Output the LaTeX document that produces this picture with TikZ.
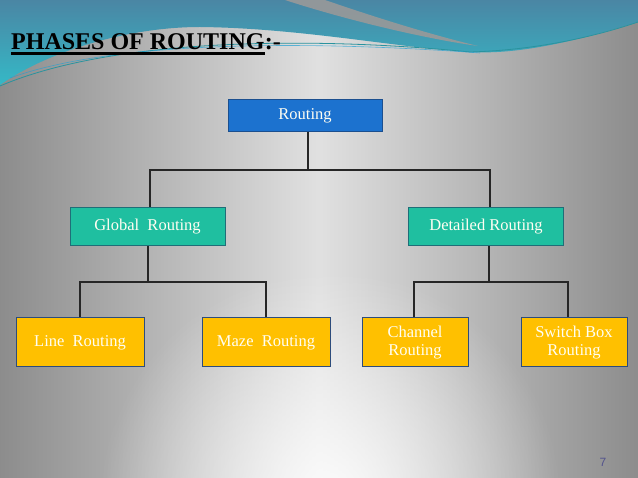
\documentclass[tikz,border=0pt]{standalone}
\usepackage{fontspec}
\usetikzlibrary{fadings}
\setmainfont{Liberation Serif}
\newfontfamily\numfont{Liberation Sans}
\tikzfading[name=glowfade, inner color=transparent!0, outer color=transparent!100]
\begin{document}
\begin{tikzpicture}[x=1pt,y=-1pt,
  box/.style={draw, line width=1pt, minimum height=#1, inner sep=1pt, align=center,
     text=white!95!yellow, font=\fontsize{16.5}{18}\selectfont},
  bluebox/.style={box=32pt, fill=blue1, draw=blue2, minimum width=154pt},
  tealbox/.style={box=38pt, fill=teal1, draw=teal2, minimum width=155pt},
  goldbox/.style={box=49pt, fill=gold1, draw=navy1, minimum width=128pt},
  goldboxs/.style={box=49pt, fill=gold1, draw=navy1, minimum width=106pt},
  conn/.style={draw=black!85, line width=1.8pt}]
\definecolor{blue1}{HTML}{1C72CF}
\definecolor{blue2}{HTML}{1B4F8F}
\definecolor{teal1}{HTML}{1FBFA0}
\definecolor{teal2}{HTML}{1F6E78}
\definecolor{gold1}{HTML}{FFC000}
\definecolor{navy1}{HTML}{2D4C7C}
\definecolor{tealA}{HTML}{4A86A4}
\definecolor{tealB}{HTML}{35B8C6}
% background
\useasboundingbox (0,0) rectangle (638,478);
\shade[left color=black!45, right color=black!45, middle color=black!12] (0,0) rectangle (638,478);
\fill[white, path fading=glowfade, opacity=0.9] (330,500) ellipse (230 and 230);
% top swoosh
\shade[top color=tealA, bottom color=tealB] (0,0) -- (638,0) -- (638,22)
  .. controls (580,40) and (520,55) .. (470,52)
  .. controls (400,48) and (300,28) .. (200,27)
  .. controls (130,27) and (50,50) .. (0,85) -- cycle;
\fill[black!40, opacity=0.9] (285,0) .. controls (340,18) and (420,38) .. (478,46)
  .. controls (420,32) and (360,12) .. (325,0) -- cycle;
\draw[tealB!80!black, line width=0.8pt] (0,86) .. controls (120,35) and (330,38) .. (470,52)
  .. controls (540,50) and (600,35) .. (638,22);
\draw[cyan!70!teal, line width=0.6pt, opacity=0.7] (10,78) .. controls (120,38) and (330,42) .. (480,53);
% title
\node[anchor=base west, inner sep=0pt, font=\fontsize{24}{28}\selectfont\bfseries] (title) at (11,50)
  {PHASES OF ROUTING};
\node[anchor=base west, inner sep=0pt, font=\fontsize{24}{28}\selectfont\bfseries] (tsuf) at (title.base east)
  {:-};
\draw[line width=2.4pt] ([yshift=-3.5pt]title.base west) -- ([yshift=-3.5pt]title.base east);
% boxes
\node[bluebox] (root) at (305,116) {Routing};
\node[tealbox] (glob) at (147.5,226.5) {Global\ \ Routing};
\node[tealbox] (det) at (486,226.5) {Detailed Routing};
\node[goldbox] (line) at (80,342.5) {Line\ \ Routing};
\node[goldbox] (maze) at (266,342.5) {Maze\ \ Routing};
\node[goldboxs] (chan) at (415,342.5) {Channel\\Routing};
\node[goldboxs] (sw) at (574,342.5) {Switch Box\\Routing};
% connectors
\coordinate (j0) at (308,170);
\coordinate (j1) at (148,282);
\coordinate (j2) at (489,282);
\draw[conn] (root.south -| j0) -- (j0);
\draw[conn] (glob.north -| 150,0) |- (j0) -| (det.north -| 490,0);
\draw[conn] (glob.south -| j1) -- (j1);
\draw[conn] (line.north -| 80,0) |- (j1) -| (maze.north -| 266,0);
\draw[conn] (det.south -| j2) -- (j2);
\draw[conn] (chan.north -| 414,0) |- (j2) -| (sw.north -| 568,0);
% page number
\node[font=\numfont\fontsize{12}{14}\selectfont, text=black!35!blue!35!gray] (pg) at (603,462) {7};
\end{tikzpicture}
\end{document}
